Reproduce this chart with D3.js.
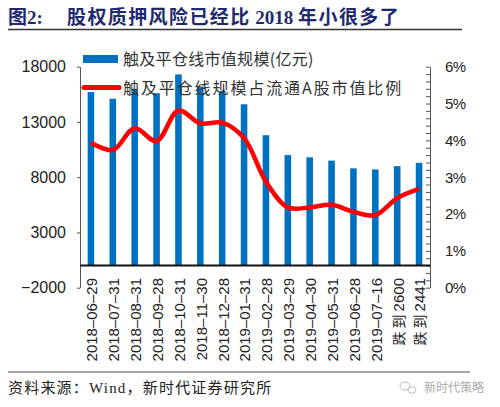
<!DOCTYPE html>
<html>
<head>
<meta charset="utf-8">
<script src="https://cdn.jsdelivr.net/npm/d3@7"></script>
<style>
  body { margin: 0; background: #fff; }
  svg { display: block; }
</style>
</head>
<body>
<div class="chart"></div>
<script>
// data
const categories = ['2018-06-29', '2018-07-31', '2018-08-31', '2018-09-28', '2018-10-31', '2018-11-30',
    '2018-12-28', '2019-01-31', '2019-02-28', '2019-03-29', '2019-04-30', '2019-05-31',
    '2019-06-28', '2019-07-16', '跌到2600', '跌到2441'];
// 触及平仓线市值规模 (亿元)
const scaleValues = [15700, 15100, 16000, 15600, 17300, 16200, 15800, 14600,
    11800, 10000, 9800, 9500, 8800, 8700, 9000, 9300];
// 占流通A股市值比例 (%)
const ratioValues = [3.94, 3.74, 4.33, 3.98, 4.81, 4.46, 4.48, 4.06,
    2.88, 2.18, 2.18, 2.25, 2.06, 1.97, 2.43, 2.68];
const leftTicks = [-2000, 3000, 8000, 13000, 18000];
const rightTicks = [0, 1, 2, 3, 4, 5, 6];

function main() {
    const W = 500, H = 407;
    const left = 80, right = 430, top = 66.7, bottom = 287.7;

    const svg = d3.select('.chart')
        .append('svg')
        .attr('width', W)
        .attr('height', H);

    const cjk = '"Noto Sans CJK SC", sans-serif';
    const arial = '"Liberation Sans", Arial, sans-serif';

    // title
    const title = svg.append('text')
        .attr('x', 8)
        .attr('y', 24)
        .attr('fill', '#1f2a6e')
        .attr('font-family', '"Liberation Serif", ' + cjk)
        .attr('font-weight', 'bold')
        .attr('font-size', 19);
    title.append('tspan').text('图2:');
    title.append('tspan').attr('x', 67).attr('letter-spacing', 1.4).text('股权质押风险已经比');
    title.append('tspan').text(' 2018 ');
    title.append('tspan').attr('letter-spacing', 1.4).text('年小很多了');

    svg.append('line')
        .attr('x1', 8).attr('x2', 462)
        .attr('y1', 29.5).attr('y2', 29.5)
        .attr('stroke', '#333').attr('stroke-width', 1.5);

    // scales
    const x = d3.scaleBand()
        .domain(categories)
        .range([left, right])
        .paddingInner(0.7)
        .paddingOuter(0.35);

    const xc = d => x(d) + x.bandwidth() / 2;

    const yL = d3.scaleLinear().domain([-2000, 18000]).range([bottom, top]);
    const yR = d3.scaleLinear().domain([0, 6]).range([bottom, top]);

    // bars
    svg.selectAll('rect.bar')
        .data(scaleValues)
        .enter()
        .append('rect')
        .attr('class', 'bar')
        .attr('x', (d, i) => x(categories[i]))
        .attr('y', d => yL(d))
        .attr('width', x.bandwidth())
        .attr('height', d => yL(0) - yL(d))
        .attr('fill', '#0070c0');

    // left axis
    const axisL = svg.append('g')
        .attr('transform', `translate(${left},0)`)
        .call(d3.axisLeft(yL).tickValues(leftTicks).tickSize(3).tickSizeOuter(0)
            .tickFormat(d => d < 0 ? '\u2212' + Math.abs(d) : d));
    axisL.select('.domain').attr('stroke', '#555');
    axisL.selectAll('line').attr('stroke', '#555');
    axisL.selectAll('text')
        .attr('x', -14)
        .attr('fill', '#222')
        .attr('font-family', arial)
        .attr('font-size', 16);

    // right axis with minor ticks pointing inside
    const axisR = svg.append('g')
        .attr('transform', `translate(${right},0)`);
    axisR.call(d3.axisRight(yR).ticks(30).tickSize(-4).tickSizeOuter(0).tickFormat(''));
    axisR.select('.domain').attr('stroke', '#555');
    axisR.selectAll('line').attr('stroke', '#555');
    axisR.selectAll('.lbl')
        .data(rightTicks)
        .enter()
        .append('text')
        .attr('class', 'lbl')
        .attr('x', 15)
        .attr('y', d => yR(d))
        .attr('dy', '0.36em')
        .attr('fill', '#222')
        .attr('font-family', arial)
        .attr('font-size', 15)
        .attr('letter-spacing', -0.5)
        .text(d => d + '%');

    // x axis at zero
    svg.append('line')
        .attr('x1', left).attr('x2', right)
        .attr('y1', yL(0)).attr('y2', yL(0))
        .attr('stroke', '#111').attr('stroke-width', 2);

    // category labels, rotated
    const lab = svg.selectAll('text.cat')
        .data(categories)
        .enter()
        .append('text')
        .attr('class', 'cat')
        .attr('transform', d => `translate(${xc(d) + 1},278) rotate(-90)`)
        .attr('text-anchor', 'end')
        .attr('dy', '0.36em')
        .attr('fill', '#222')
        .attr('font-family', arial)
        .attr('font-size', 15);
    lab.each(function (d) {
        const t = d3.select(this);
        if (d.startsWith('跌到')) {
            t.append('tspan').attr('font-family', cjk).attr('font-size', 14)
                .attr('letter-spacing', 3).text('跌到');
            t.append('tspan').text(d.slice(2));
        } else {
            t.text(d.replace(/-/g, '\u2013'));
        }
    });

    // ratio line
    const line = d3.line()
        .x((d, i) => xc(categories[i]))
        .y(d => yR(d))
        .curve(d3.curveCatmullRom.alpha(0.5));

    svg.append('path')
        .datum(ratioValues)
        .attr('d', line)
        .attr('fill', 'none')
        .attr('stroke', '#ff0000')
        .attr('stroke-width', 4.5)
        .attr('stroke-linejoin', 'round');

    // legend
    svg.append('rect')
        .attr('x', 83).attr('y', 55)
        .attr('width', 35).attr('height', 8)
        .attr('fill', '#0070c0');
    svg.append('text')
        .attr('x', 123).attr('y', 59)
        .attr('dy', '0.36em')
        .attr('fill', '#333')
        .attr('font-family', cjk)
        .attr('font-size', 16)
        .attr('letter-spacing', 0.3)
        .text('触及平仓线市值规模(亿元)');
    svg.append('line')
        .attr('x1', 84).attr('x2', 119)
        .attr('y1', 87.5).attr('y2', 87.5)
        .attr('stroke', '#ff0000').attr('stroke-width', 5)
        .attr('stroke-linecap', 'round');
    svg.append('text')
        .attr('x', 123).attr('y', 88)
        .attr('dy', '0.36em')
        .attr('fill', '#333')
        .attr('font-family', cjk)
        .attr('font-size', 16)
        .attr('letter-spacing', 1.9)
        .text('触及平仓线规模占流通A股市值比例');

    // footer
    svg.append('line')
        .attr('x1', 8).attr('x2', 470)
        .attr('y1', 372).attr('y2', 372)
        .attr('stroke', '#888').attr('stroke-width', 1.5);
    svg.append('text')
        .attr('x', 8).attr('y', 393)
        .attr('fill', '#222')
        .attr('font-family', '"Liberation Serif", ' + cjk)
        .attr('font-size', 15)
        .attr('letter-spacing', 1.2)
        .text('资料来源：Wind，新时代证券研究所');

    // watermark
    const wm = svg.append('g').attr('fill', 'none').attr('stroke', '#bbb').attr('stroke-width', 1);
    wm.append('ellipse').attr('cx', 405).attr('cy', 386).attr('rx', 5).attr('ry', 4);
    wm.append('ellipse').attr('cx', 412).attr('cy', 390).attr('rx', 4).attr('ry', 3.2);
    svg.append('text')
        .attr('x', 424).attr('y', 392)
        .attr('fill', '#aaa')
        .attr('font-family', cjk)
        .attr('font-size', 12)
        .text('新时代策略');
}

main();
</script>
</body>
</html>
